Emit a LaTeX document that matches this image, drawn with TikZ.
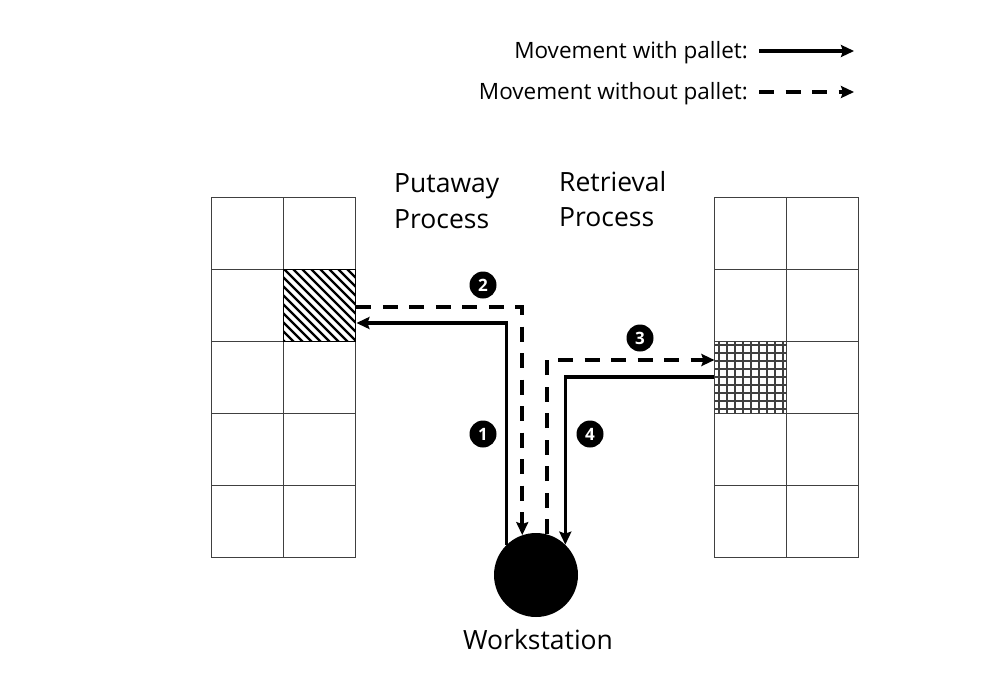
\documentclass[tikz,border=0pt]{standalone}
\usepackage{fontspec}
\setmainfont{Open Sans}
\usetikzlibrary{arrows.meta,calc}

\tikzstyle{cell}=[rectangle, draw=black!75, line width=1pt, minimum size=72pt, inner sep=0pt]
\tikzstyle{badge}=[circle, fill=black, text=white, inner sep=0pt, minimum size=27pt, font=\fontsize{17}{17}\selectfont\bfseries]
\tikzstyle{label}=[inner sep=0pt, anchor=base west, font=\fontsize{26.5}{26.5}\selectfont]
\tikzstyle{legend}=[inner sep=0pt, anchor=base east, font=\fontsize{22.5}{22.5}\selectfont]
\tikzstyle{loaded}=[line width=3.4pt, -{Stealth[length=13pt,width=12pt,inset=2pt]}]
\tikzstyle{empty}=[line width=3.6pt, dash pattern=on 15pt off 11.5pt, -{Stealth[length=13pt,width=12pt,inset=2pt]}]

\begin{document}
\begin{tikzpicture}[x=1pt, y=-1pt]
            \useasboundingbox (0,0) rectangle (997,688);

            % Regaly
            \foreach \r in {1,...,5} {
                \foreach \c in {1,2} {
                    \node[cell] (L\r\c) at (175.95+72*\c,161+72*\r) {};
                    \node[cell] (R\r\c) at (678.95+72*\c,161+72*\r) {};
                }
            }

            % Obsazene pozice
            \node[cell, draw=black, path picture={
                \foreach \d in {-72,-63,...,72}
                    \draw[line width=2.2pt] ($(L22.center)+(\d-40,-40)$) -- ($(L22.center)+(\d+40,40)$);
            }] (L22) at (319.95,305) {};
            \node[cell, path picture={
                \foreach \d in {-32,-24,...,32} {
                    \draw[line width=1.3pt] ($(R31.center)+(\d,-36)$) -- ($(R31.center)+(\d,36)$);
                    \draw[line width=1.3pt] ($(R31.center)+(-36,\d)$) -- ($(R31.center)+(36,\d)$);
                }
            }] (R31) at (750.95,377) {};

            % Pracoviste
            \node[circle, fill=black, minimum size=84pt, inner sep=0pt] (ws) at (536,575) {};
            \node[label] (wslabel) at (463,649) {Workstation};

            % Popisky procesu
            \node[label] (put1) at (394,192) {Putaway};
            \node[label] (put2) at (394,228) {Process};
            \node[label] (ret1) at (559,191) {Retrieval};
            \node[label] (ret2) at (559,226) {Process};

            % Legenda
            \node[legend] (leg1) at (748,58) {Movement with pallet:};
            \node[legend] (leg2) at (748,99) {Movement without pallet:};
            \coordinate (leg1end) at (854,51);
            \coordinate (leg2end) at (854,92);
            \draw[loaded] (759,51) -- (leg1end);
            \draw[empty] (759,92) -- (leg2end);

            % Pohyby
            \draw[loaded] (ws.134) |- ($(L22.east)+(0,18)$);
            \draw[empty] ($(L22.east)+(0,2)$) -| (ws.109);
            \draw[empty] (ws.75) |- ($(R31.west)+(0,-17)$);
            \draw[loaded] (R31.west) -| (ws.46);

            % Cisla
            \node[badge] (n1) at (483,434) {1};
            \node[badge] (n2) at (483,285) {2};
            \node[badge] (n3) at (640,338) {3};
            \node[badge] (n4) at (590,434) {4};
        \end{tikzpicture}
\end{document}
